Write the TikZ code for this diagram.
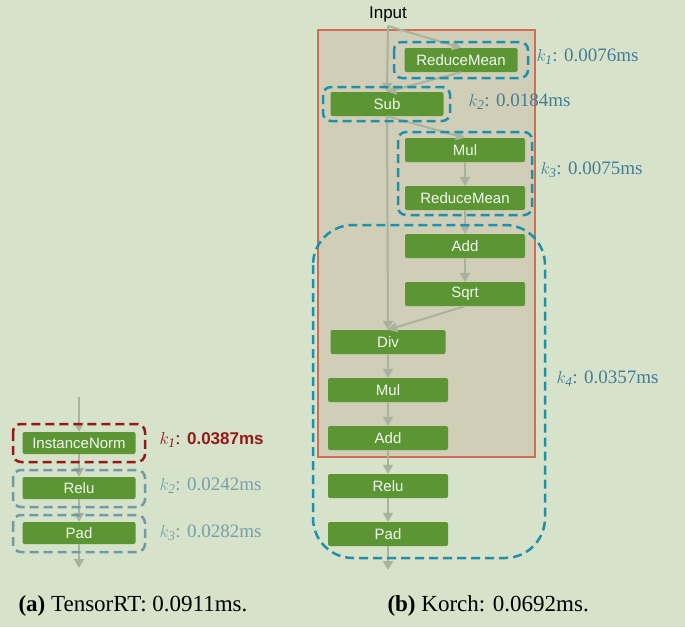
\documentclass[tikz,border=0pt]{standalone}
\usepackage{fontspec}
\setmainfont{Liberation Serif}
\newfontfamily\nodefont{Liberation Sans}
\usetikzlibrary{arrows.meta}
\definecolor{bg}{RGB}{214,226,202}
\definecolor{op}{RGB}{92,150,52}
\definecolor{kbox}{RGB}{30,145,170}
\definecolor{klab}{RGB}{70,125,150}
\definecolor{gbox}{RGB}{110,155,165}
\definecolor{glab}{RGB}{120,160,170}
\definecolor{rbox}{RGB}{150,25,25}
\definecolor{arr}{RGB}{168,178,158}
\definecolor{fuse}{RGB}{208,206,183}
\definecolor{fuseb}{RGB}{208,110,85}
\begin{document}
\begin{tikzpicture}[x=1pt,y=-1pt,
  opbox/.style={fill=op,rounded corners=2pt,text=white!92!op,font=\nodefont\fontsize{15}{17}\selectfont,minimum height=24pt,inner sep=0pt},
  ed/.style={draw=arr,line width=2pt,-{Triangle[length=9pt,width=10pt]}},
  kd/.style={draw=kbox,line width=2.5pt,dash pattern=on 9pt off 5pt,rounded corners=8pt},
  lab/.style={text=klab,font=\fontsize{19}{22}\selectfont,anchor=west}]
\fill[bg] (0,0) rectangle (685,627);
\useasboundingbox (0,0) rectangle (685,627);
% right
\draw[fuseb,fill=fuse,line width=2.2pt] (318,30) rectangle (535,457);
\node[font=\nodefont\fontsize{17}{19}\selectfont] (in) at (388,14) {Input};
\coordinate (split) at (388,26);
\node[opbox,minimum width=113pt] (rm1) at (461,60) {ReduceMean};
\node[opbox,minimum width=113pt] (sub) at (387,104) {Sub};
\node[opbox,minimum width=120pt] (mul) at (465,150) {Mul};
\node[opbox,minimum width=120pt] (rm2) at (465,198) {ReduceMean};
\node[opbox,minimum width=120pt] (add) at (465,246) {Add};
\node[opbox,minimum width=120pt] (sqrt) at (465,294) {Sqrt};
\node[opbox,minimum width=115pt] (div) at (388,342) {Div};
\node[opbox,minimum width=120pt] (mul2) at (388,390) {Mul};
\node[opbox,minimum width=120pt] (add2) at (388,438) {Add};
\node[opbox,minimum width=120pt] (relu) at (388,486) {Relu};
\node[opbox,minimum width=120pt] (pad) at (388,534) {Pad};
\coordinate (out) at (388,570);
\draw[ed] (split) -- (rm1.north);
\draw[ed] (split) -- (sub.north);
\draw[ed] (rm1.south) -- (sub.north);
\draw[ed] (sub.south) -- (mul.north);
\draw[ed] (sub.south) -- (div.north);
\draw[ed] (mul) -- (rm2);
\draw[ed] (rm2) -- (add);
\draw[ed] (add) -- (sqrt);
\draw[ed] (sqrt.south) -- (div.north);
\draw[ed] (div) -- (mul2);
\draw[ed] (mul2) -- (add2);
\draw[ed] (add2) -- (relu);
\draw[ed] (relu) -- (pad);
\draw[ed] (pad) -- (out);
\draw[kd] (394,42) rectangle (528,78);
\draw[kd] (323,87) rectangle (450,121);
\draw[kd] (398,132) rectangle (532,215);
\draw[kd,rounded corners=40pt] (313,225) rectangle (545,558);
\node[lab] (l1) at (533,57) {$k_{\mathit 1}$: 0.0076ms};
\node[lab] (l2) at (465,102) {$k_{\mathit 2}$: 0.0184ms};
\node[lab] (l3) at (537,170) {$k_{\mathit 3}$: 0.0075ms};
\node[lab] (l4) at (553,379) {$k_{\mathit 4}$: 0.0357ms};
% left
\coordinate (ltop) at (79,397);
\node[opbox,minimum width=113pt,minimum height=22pt] (inorm) at (79,443) {InstanceNorm};
\node[opbox,minimum width=113pt,minimum height=22pt] (lrelu) at (79,488) {Relu};
\node[opbox,minimum width=113pt,minimum height=22pt] (lpad) at (79,533) {Pad};
\coordinate (lout) at (79,568);
\draw[ed] (ltop) -- (inorm);
\draw[ed] (inorm) -- (lrelu);
\draw[ed] (lrelu) -- (lpad);
\draw[ed] (lpad) -- (lout);
\draw[kd,draw=rbox] (13,424) rectangle (145,462);
\draw[kd,draw=gbox] (13,470) rectangle (145,507);
\draw[kd,draw=gbox] (13,515) rectangle (145,552);
\node[lab,text=rbox] (m1) at (156,440) {$k_{\mathit 1}$: \textbf{\nodefont\fontsize{17}{20}\selectfont 0.0387ms}};
\node[lab,text=glab] (m2) at (156,486) {$k_{\mathit 2}$: 0.0242ms};
\node[lab,text=glab] (m3) at (156,533) {$k_{\mathit 3}$: 0.0282ms};
\node[font=\fontsize{23}{26}\selectfont,anchor=west] (ca) at (15,606) {\textbf{(a)} TensorRT: 0.0911ms.};
\node[font=\fontsize{23}{26}\selectfont,anchor=west] (cb) at (384,606) {\textbf{(b)} Korch: 0.0692ms.};
\end{tikzpicture}
\end{document}
